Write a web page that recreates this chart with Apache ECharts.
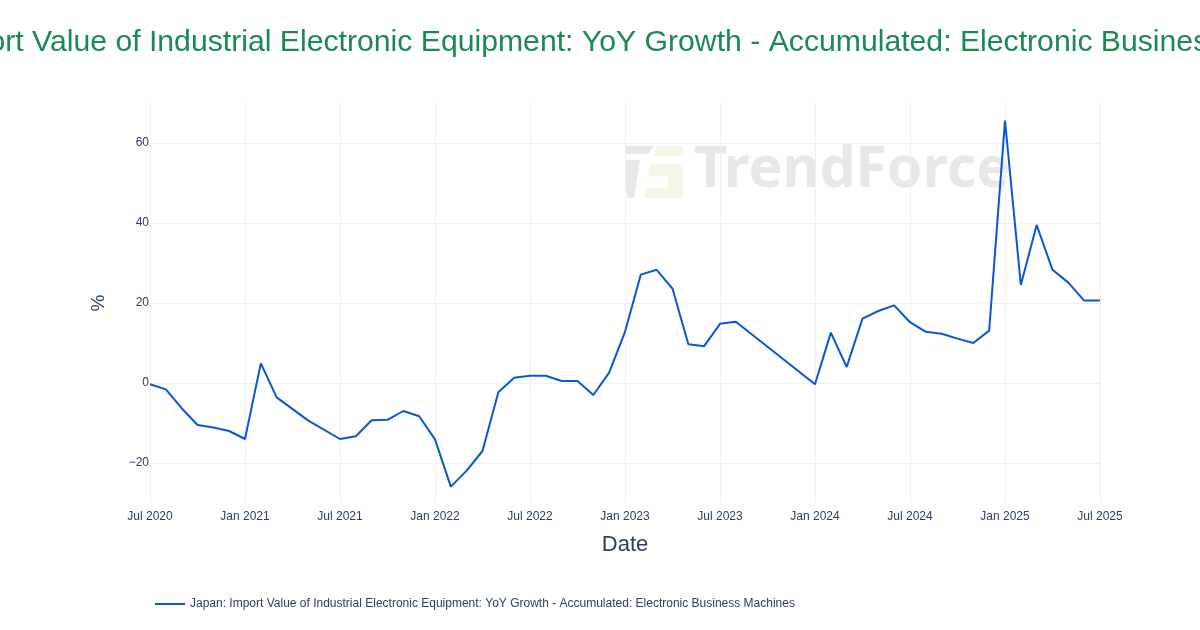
<!DOCTYPE html>
<html>
<head>
<meta charset="utf-8">
<script src="https://cdn.jsdelivr.net/npm/echarts@6/dist/echarts.min.js"></script>
<style>
  html, body { margin: 0; padding: 0; background: #fff; }
  #chart { width: 1200px; height: 630px; }
</style>
</head>
<body>
<div id="chart"></div>
<script>
// months Jul 2020 .. Jul 2025
var monthNames = ['Jan','Feb','Mar','Apr','May','Jun','Jul','Aug','Sep','Oct','Nov','Dec'];
var months = [];
for (var y = 2020; y <= 2025; y++) {
    for (var m = 0; m < 12; m++) {
        if (y === 2020 && m < 6) continue;
        if (y === 2025 && m > 6) continue;
        months.push(monthNames[m] + ' ' + y);
    }
}

// YoY growth, % (null = no value, line joins over it)
var yoy2020 = [-0.3, -1.6, -6.3, -10.5, -11.1, -12.0];
var yoy2021 = [-14.0, 4.9, -3.6, null, -9.4, null, -14.0, -13.3, -9.3, -9.2, -7.0, -8.3];
var yoy2022 = [-14.1, -25.9, -21.9, -17.0, -2.3, 1.3, 1.8, 1.8, 0.5, 0.5, -3.0, 2.6];
var yoy2023 = [12.8, 27.1, 28.3, 23.6, 9.7, 9.2, 14.8, 15.3, null, null, null, null];
var yoy2024 = [-0.3, 12.6, 4.0, 16.1, 18.0, 19.4, 15.2, 12.8, 12.3, 11.1, 10.0, 13.1];
var yoy2025 = [65.6, 24.5, 39.5, 28.3, 25.1, 20.6, 20.6];
var values = [].concat(yoy2020, yoy2021, yoy2022, yoy2023, yoy2024, yoy2025);

var seriesName = 'Japan: Import Value of Industrial Electronic Equipment: YoY Growth - Accumulated: Electronic Business Machines';
var font = '"Liberation Sans", Arial, sans-serif';
var textColor = '#2a3f5f';

var chart = echarts.init(document.getElementById('chart'));
var option = {
    backgroundColor: '#fff',
    animation: false,
    title: {
        text: seriesName,
        left: 'center',
        top: 23,
        textStyle: {
            color: '#1b8a50',
            fontSize: 30.2,
            fontWeight: 'normal',
            fontFamily: font
        }
    },
    graphic: [
        {
            type: 'group',
            left: 626,
            top: 146,
            z: 0,
            children: [
                { type: 'polygon', shape: { points: [[0, 0], [28, 0], [22, 8], [0, 8]] }, style: { fill: '#e8e8e8' } },
                { type: 'polygon', shape: { points: [[0, 14], [14, 14], [8, 52], [2, 52], [0, 44]] }, style: { fill: '#e8e8e8' } },
                { type: 'polygon', shape: { points: [[30, 0], [57, 0], [57, 10], [28, 10]] }, style: { fill: '#f2f7e8' } },
                { type: 'polygon', shape: { points: [[24, 18], [57, 18], [57, 52], [18, 52], [20, 42], [42, 42], [42, 30], [22, 30]] }, style: { fill: '#f2f7e8' } }
            ]
        },
        {
            type: 'text',
            left: 694,
            top: 142,
            z: 0,
            style: {
                text: 'TrendForce',
                fill: '#e8e8e8',
                font: 'bold 57px "Noto Sans", "Open Sans", sans-serif'
            }
        }
    ],
    legend: {
        left: 150,
        top: 593,
        icon: 'rect',
        itemWidth: 30,
        itemHeight: 2,
        itemGap: 10,
        textStyle: { color: textColor, fontSize: 12, fontFamily: font },
        data: [seriesName]
    },
    grid: {
        left: 150,
        right: 100,
        top: 103,
        bottom: 127
    },
    xAxis: {
        type: 'category',
        data: months,
        boundaryGap: false,
        name: 'Date',
        nameLocation: 'middle',
        nameGap: 31,
        nameTextStyle: { color: textColor, fontSize: 22, fontFamily: font },
        axisLine: { show: false },
        axisTick: { show: false },
        axisLabel: {
            interval: 5,
            color: textColor,
            fontSize: 12,
            fontFamily: font,
            margin: 8,
            showMaxLabel: true
        },
        splitLine: {
            show: true,
            interval: 5,
            lineStyle: { color: '#f0f0f0', width: 1 }
        }
    },
    yAxis: {
        type: 'value',
        min: -30,
        max: 70,
        interval: 10,
        name: '%',
        nameLocation: 'middle',
        nameGap: 42,
        nameTextStyle: { color: textColor, fontSize: 19, fontFamily: font },
        axisLine: { show: false },
        axisTick: { show: false },
        axisLabel: {
            color: textColor,
            fontSize: 12,
            fontFamily: font,
            margin: 1,
            formatter: function (v) {
                if (v % 20 !== 0) return '';
                return v < 0 ? '\u2212' + Math.abs(v) : String(v);
            }
        },
        splitLine: {
            show: true,
            lineStyle: { color: ['rgba(0,0,0,0)', '#f0f0f0'], width: 1 }
        }
    },
    series: [
        {
            name: seriesName,
            type: 'line',
            data: values,
            connectNulls: true,
            showSymbol: false,
            symbol: 'none',
            lineStyle: { color: '#0b55d6', width: 2 },
            itemStyle: { color: '#0b55d6' },
            z: 5
        }
    ]
};
chart.setOption(option);
</script>
</body>
</html>
